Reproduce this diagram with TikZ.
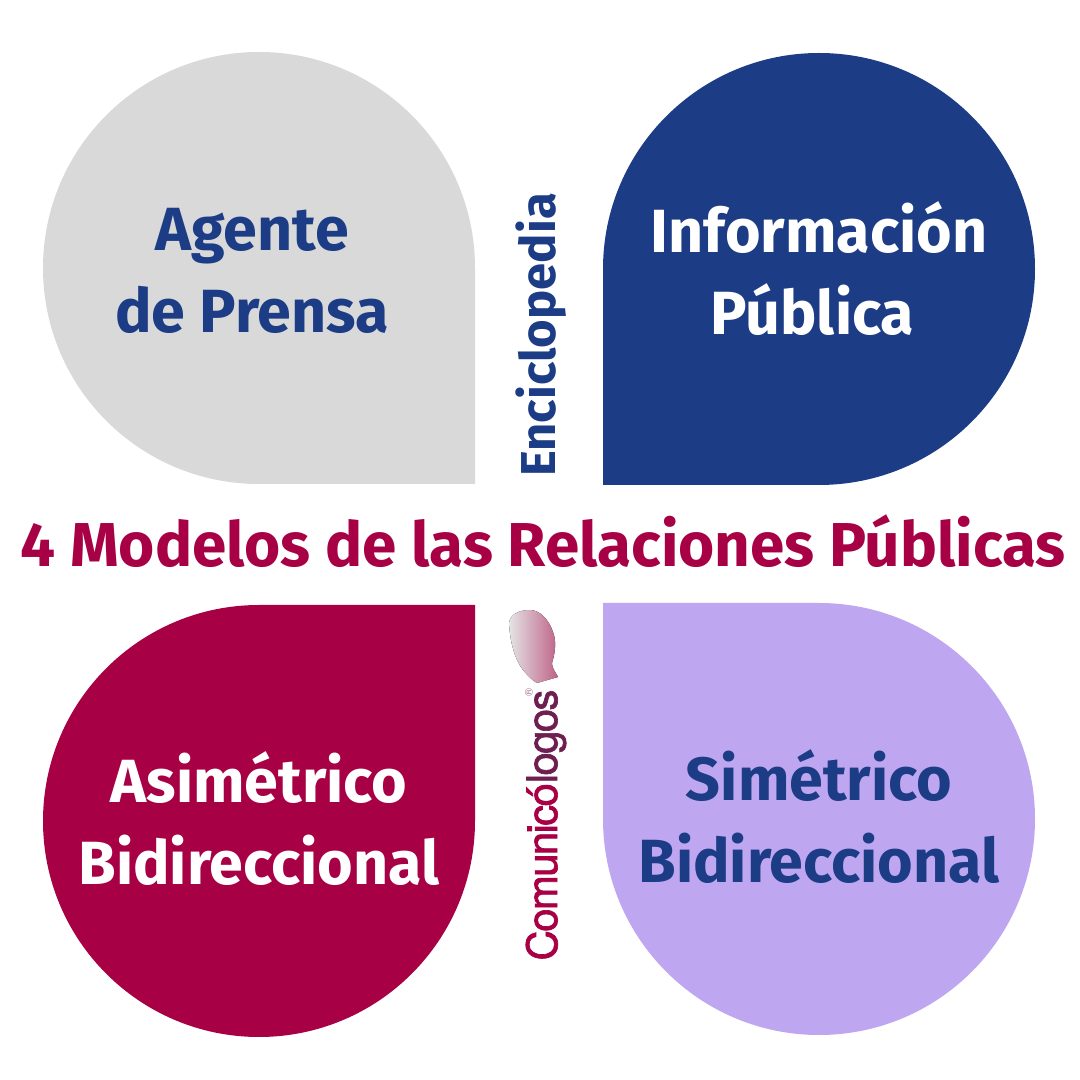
\documentclass[tikz,border=0pt]{standalone}
\usepackage{fontspec}
\setmainfont{Fira Sans}
\newfontfamily\logofont[LetterSpace=-4,FakeBold=1.6]{TeX Gyre Heros}
\newfontfamily\regfont{TeX Gyre Heros}
\definecolor{navy}{HTML}{1C3C85}
\definecolor{wine}{HTML}{A80045}
\definecolor{plum}{HTML}{6E1F50}
\definecolor{lilac}{HTML}{BEA7F0}
\definecolor{lgray}{HTML}{D9D9D9}
\tikzset{
 lab/.style={font=\fontsize{61}{82}\selectfont\bfseries,align=center,inner sep=0pt},
}
\begin{document}
\begin{tikzpicture}[x=1pt,y=1pt]
\useasboundingbox (0,0) rectangle (1080,1080);
\fill[white] (0,0) rectangle (1080,1080);
\fill[lgray] (475,596) -- (259,596) arc[start angle=270,end angle=90,radius=216] arc[start angle=90,end angle=0,radius=216] -- cycle;
\fill[navy] (603,595) -- (819,595) arc[start angle=-90,end angle=90,radius=216] arc[start angle=90,end angle=180,radius=216] -- cycle;
\fill[wine] (475,475) -- (259,475) arc[start angle=90,end angle=270,radius=216] arc[start angle=-90,end angle=0,radius=216] -- cycle;
\fill[lilac] (603,477) -- (819,477) arc[start angle=90,end angle=-90,radius=216] arc[start angle=270,end angle=180,radius=216] -- cycle;
\node[lab,text=navy] (a) at (252,809) {Agente\\de Prensa};
\node[lab,text=white] (b) at (819,811) {Información\\Pública\hspace*{13pt}};
\node[lab,text=white] (c) at (259,261) {Asimétrico\\Bidireccional};
\node[lab,text=navy] (d) at (819,263) {Simétrico\\Bidireccional};
\node[font=\fontsize{62}{70}\selectfont\bfseries,text=wine,inner sep=0pt] (t) at (543,539) {4 Modelos de las Relaciones Públicas};
\node[font=\fontsize{49}{56}\selectfont\bfseries,text=navy,rotate=90,inner sep=0pt] (e) at (541,745) {Enciclopedia};
\node[font=\fontsize{42}{50}\selectfont\logofont,rotate=90,inner sep=0pt] (f) at (546,255) {\textcolor{wine}{Comunicó}\textcolor{plum}{logos}};
\node[font=\fontsize{11}{12}\selectfont\regfont,text=plum!60,rotate=90,inner sep=0pt] (r) at (529,388) {®};
\fill[left color=lgray!70!white,right color=wine!55!lgray] (530,470) .. controls (518,470) and (510,465) .. (509,457) .. controls (510,438) and (515,420) .. (523,410) .. controls (528,404) and (533,399) .. (537,397) -- (558,403) .. controls (554,410) and (552,413) .. (552,417) .. controls (556,430) and (556,440) .. (553,448) .. controls (549,460) and (540,470) .. (530,470) -- cycle;
\end{tikzpicture}
\end{document}
